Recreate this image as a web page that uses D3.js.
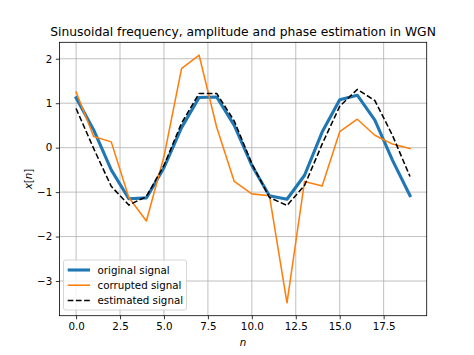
<!DOCTYPE html>
<html><head><meta charset="utf-8">
<script src="https://cdn.jsdelivr.net/npm/d3@7"></script>
<style>body{margin:0;background:#fff}svg{display:block;font-family:"DejaVu Sans",sans-serif}</style>
</head><body><div id="c"></div>
<script>
const n = d3.range(20);
const original = [1.12,0.40,-0.50,-1.15,-1.13,-0.45,0.45,1.13,1.14,0.50,-0.40,-1.08,-1.16,-0.62,0.35,1.08,1.18,0.62,-0.28,-1.08];
const corrupted = [1.25,0.25,0.13,-1.12,-1.65,-0.20,1.78,2.08,0.46,-0.76,-1.04,-1.08,-3.49,-0.76,-0.86,0.36,0.64,0.28,0.08,-0.02];
const estimated = [0.88,-0.02,-0.87,-1.29,-1.10,-0.40,0.55,1.22,1.22,0.60,-0.36,-1.12,-1.30,-0.85,0.08,0.93,1.31,1.06,0.28,-0.65];
const xTicks = [0,2.5,5,7.5,10,12.5,15,17.5];
const yTicks = [-3,-2,-1,0,1,2];
const labels = ["original signal","corrupted signal","estimated signal"];

const W=474,H=355, L=59.4, R=426.7, T=42.3, B=315.7;
const svg=d3.select("#c").append("svg").attr("width",W).attr("height",H);
const x=d3.scaleLinear().domain([-0.95,19.95]).range([L,R]);
const y=d3.scaleLinear().domain([-3.78,2.37]).range([B,T]);

// grid
const g=svg.append("g");
g.selectAll(".gx").data(xTicks).join("line").attr("x1",d=>x(d)).attr("x2",d=>x(d)).attr("y1",T).attr("y2",B).attr("stroke","#b0b0b0").attr("stroke-width",0.8);
g.selectAll(".gy").data(yTicks).join("line").attr("y1",d=>y(d)).attr("y2",d=>y(d)).attr("x1",L).attr("x2",R).attr("stroke","#b0b0b0").attr("stroke-width",0.8);

// axes
const xa=svg.append("g").attr("transform",`translate(0,${B})`).call(d3.axisBottom(x).tickValues(xTicks).tickFormat(d3.format(".1f")).tickSize(3.6).tickPadding(3.6));
const ya=svg.append("g").attr("transform",`translate(${L},0)`).call(d3.axisLeft(y).tickValues(yTicks).tickFormat(d=>d<0?"\u2212"+Math.abs(d):d).tickSize(3.6).tickPadding(3.6));
[xa,ya].forEach(a=>{a.select(".domain").remove();a.selectAll("text").attr("font-size",10.3).attr("fill","#000").attr("font-family","DejaVu Sans");a.selectAll("line").attr("stroke","#000").attr("stroke-width",0.8);});

const clip=svg.append("clipPath").attr("id","cp").append("rect").attr("x",L).attr("y",T).attr("width",R-L).attr("height",B-T);
const lineGen=arr=>d3.line().x((d,i)=>x(n[i])).y(d=>y(d))(arr);
const pg=svg.append("g").attr("clip-path","url(#cp)");
pg.append("path").attr("d",lineGen(original)).attr("fill","none").attr("stroke","#1f77b4").attr("stroke-width",3.1).attr("stroke-linejoin","round").attr("stroke-linecap","square");
pg.append("path").attr("d",lineGen(corrupted)).attr("fill","none").attr("stroke","#ff7f0e").attr("stroke-width",1.55).attr("stroke-linejoin","round").attr("stroke-linecap","square");
pg.append("path").attr("d",lineGen(estimated)).attr("fill","none").attr("stroke","#000").attr("stroke-width",1.55).attr("stroke-dasharray","5.7,2.5");

// frame
svg.append("rect").attr("x",L).attr("y",T).attr("width",R-L).attr("height",B-T).attr("fill","none").attr("stroke","#000").attr("stroke-width",0.8);

// title, labels
svg.append("text").attr("x",(L+R)/2).attr("y",36).attr("text-anchor","middle").attr("font-size",12.3).text("Sinusoidal frequency, amplitude and phase estimation in WGN");
const xl=svg.append("text").attr("x",(L+R)/2).attr("y",346).attr("text-anchor","middle").attr("font-size",10.3).attr("font-style","italic").text("n");
const yl=svg.append("text").attr("transform",`translate(32,${(T+B)/2}) rotate(-90)`).attr("text-anchor","middle").attr("font-size",10.3);
yl.append("tspan").attr("font-style","italic").text("x");
yl.append("tspan").text("[");
yl.append("tspan").attr("font-style","italic").text("n");
yl.append("tspan").text("]");

// legend
const lg=svg.append("g");
lg.append("rect").attr("x",63.5).attr("y",260).attr("width",123).attr("height",50).attr("rx",2).attr("fill","#fff").attr("fill-opacity",0.8).attr("stroke","#ccc").attr("stroke-width",0.8);
const styles=[{c:"#1f77b4",w:3.1,d:null},{c:"#ff7f0e",w:1.55,d:null},{c:"#000",w:1.55,d:"5.7,2.5"}];
labels.forEach((t,i)=>{
  const yy=270+i*15.2;
  lg.append("line").attr("x1",67.7).attr("x2",90).attr("y1",yy).attr("y2",yy).attr("stroke",styles[i].c).attr("stroke-width",styles[i].w).attr("stroke-dasharray",styles[i].d);
  lg.append("text").attr("x",97.5).attr("y",yy+3.7).attr("font-size",10.3).text(t);
});
</script></body></html>
